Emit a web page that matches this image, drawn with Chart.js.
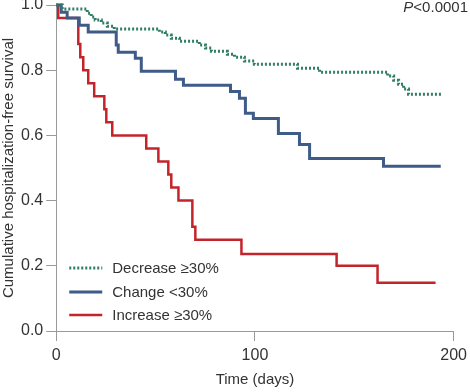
<!DOCTYPE html>
<html>
<head>
<meta charset="utf-8">
<script src="https://cdn.jsdelivr.net/npm/chart.js@4.4.1/dist/chart.umd.min.js"></script>
<style>
  html, body { margin: 0; padding: 0; background: #fff; }
  #wrap { width: 470px; height: 392px; }
</style>
</head>
<body>
<div id="wrap"><canvas id="kmChart" width="470" height="392"></canvas></div>
<script>
// Kaplan-Meier step data (days, survival after the step)
const decreaseDays = [0, 3.0, 15.6, 17.6, 19.6, 22.7, 25.7, 29.2, 51.9, 54.9, 57.9, 62.0, 72.0, 75.1, 78.1, 86.1, 89.7, 94.7, 99.7, 121.4, 132.5, 166.8, 169.8, 172.3, 174.8, 177.3, 193.9];
const decreaseSurv = [1.0, 0.988, 0.975, 0.963, 0.954, 0.945, 0.935, 0.926, 0.917, 0.908, 0.898, 0.889, 0.877, 0.868, 0.858, 0.849, 0.84, 0.828, 0.818, 0.806, 0.794, 0.782, 0.769, 0.757, 0.742, 0.726, 0.726];

const changeDays = [0, 2.5, 5.5, 11.6, 16.1, 30.2, 31.2, 39.8, 42.8, 60.0, 64.0, 87.7, 92.2, 95.2, 99.2, 111.8, 122.4, 127.5, 164.7, 193.5];
const changeSurv = [1.0, 0.978, 0.96, 0.938, 0.917, 0.877, 0.855, 0.837, 0.797, 0.772, 0.754, 0.735, 0.714, 0.668, 0.652, 0.606, 0.572, 0.529, 0.505, 0.505];

const increaseDays = [0, 1.0, 11.1, 12.1, 13.6, 16.1, 19.1, 24.2, 25.2, 28.2, 45.3, 51.4, 56.4, 57.9, 61.5, 68.5, 70.0, 93.2, 141.1, 161.7, 190.9];
const increaseSurv = [1.0, 0.96, 0.88, 0.84, 0.80, 0.76, 0.72, 0.68, 0.64, 0.60, 0.56, 0.52, 0.48, 0.44, 0.40, 0.32, 0.28, 0.236, 0.20, 0.148, 0.148];

const seriesLabels = ['Decrease \u226530%', 'Change <30%', 'Increase \u226530%'];
const xTicks = [0, 100, 200];
const yTicks = [0, 0.2, 0.4, 0.6, 0.8, 1.0];
const pText = '<0.0001';

const FONT = '"Liberation Sans", Arial, sans-serif';
const TEXT = '#333';
const AXIS = '#999';

function toPoints(days, surv) {
    return days.map((d, i) => ({ x: d, y: surv[i] }));
}

// legend drawn inside the plot, bottom left, plus the P value
const insideLegend = {
    id: 'insideLegend',
    afterDraw(chart) {
        const ctx = chart.ctx;
        const area = chart.chartArea;
        ctx.save();
        // P value top right
        ctx.fillStyle = TEXT;
        ctx.textBaseline = 'middle';
        ctx.textAlign = 'right';
        ctx.font = '15px ' + FONT;
        const numW = ctx.measureText(pText).width;
        ctx.fillText(pText, chart.width - 2, 8);
        ctx.font = 'italic 15px ' + FONT;
        ctx.fillText('P', chart.width - 2 - numW, 8);

        const rowsY = [area.bottom - 63, area.bottom - 39, area.bottom - 16];
        chart.data.datasets.forEach((ds, i) => {
            const y = rowsY[i];
            ctx.beginPath();
            ctx.strokeStyle = ds.borderColor;
            ctx.lineWidth = ds.borderWidth;
            ctx.setLineDash(ds.borderDash || []);
            ctx.moveTo(area.left + 13, y);
            ctx.lineTo(area.left + 46, y);
            ctx.stroke();
            ctx.setLineDash([]);
            ctx.fillStyle = TEXT;
            ctx.textAlign = 'left';
            ctx.font = '15px ' + FONT;
            ctx.fillText(ds.label, area.left + 56, y + 1);
        });
        ctx.restore();
    }
};

new Chart(document.getElementById('kmChart').getContext('2d'), {
    type: 'line',
    data: {
        datasets: [
            {
                label: seriesLabels[0],
                data: toPoints(decreaseDays, decreaseSurv),
                borderColor: '#2f7d66',
                borderWidth: 3,
                borderDash: [2, 2],
                borderCapStyle: 'butt',
                stepped: 'before',
                pointRadius: 0,
                clip: 5
            },
            {
                label: seriesLabels[1],
                data: toPoints(changeDays, changeSurv),
                borderColor: '#3f5b88',
                borderWidth: 3,
                stepped: 'before',
                pointRadius: 0,
                clip: 5
            },
            {
                label: seriesLabels[2],
                data: toPoints(increaseDays, increaseSurv),
                borderColor: '#c3242c',
                borderWidth: 2.5,
                stepped: 'before',
                pointRadius: 0,
                clip: 5
            }
        ]
    },
    options: {
        responsive: false,
        animation: false,
        events: [],
        layout: {
            padding: { top: 0, right: 0, left: 0, bottom: 0 }
        },
        scales: {
            x: {
                type: 'linear',
                min: 0,
                max: 200,
                afterBuildTicks: axis => { axis.ticks = xTicks.map(v => ({ value: v })); },
                grid: { drawOnChartArea: false, color: AXIS, tickLength: 10, lineWidth: 1 },
                border: { color: AXIS, width: 1 },
                ticks: { color: TEXT, font: { family: FONT, size: 16, lineHeight: 1.5 }, padding: 3, maxRotation: 0 },
                title: {
                    display: true,
                    text: 'Time (days)',
                    color: TEXT,
                    font: { family: FONT, size: 15 },
                    padding: { top: 0, bottom: 3 }
                }
            },
            y: {
                min: 0,
                max: 1,
                afterBuildTicks: axis => { axis.ticks = yTicks.map(v => ({ value: v })); },
                grid: { drawOnChartArea: false, color: AXIS, tickLength: 10, lineWidth: 1 },
                border: { color: AXIS, width: 1 },
                ticks: {
                    color: TEXT,
                    font: { family: FONT, size: 16, lineHeight: 0.25 },
                    padding: 3,
                    callback: v => v.toFixed(1)
                },
                title: {
                    display: true,
                    text: 'Cumulative hospitalization-free survival',
                    color: TEXT,
                    font: { family: FONT, size: 15 },
                    padding: { top: 0, bottom: 0 }
                }
            }
        },
        plugins: {
            legend: { display: false },
            tooltip: { enabled: false }
        }
    },
    plugins: [insideLegend]
});
</script>
</body>
</html>
